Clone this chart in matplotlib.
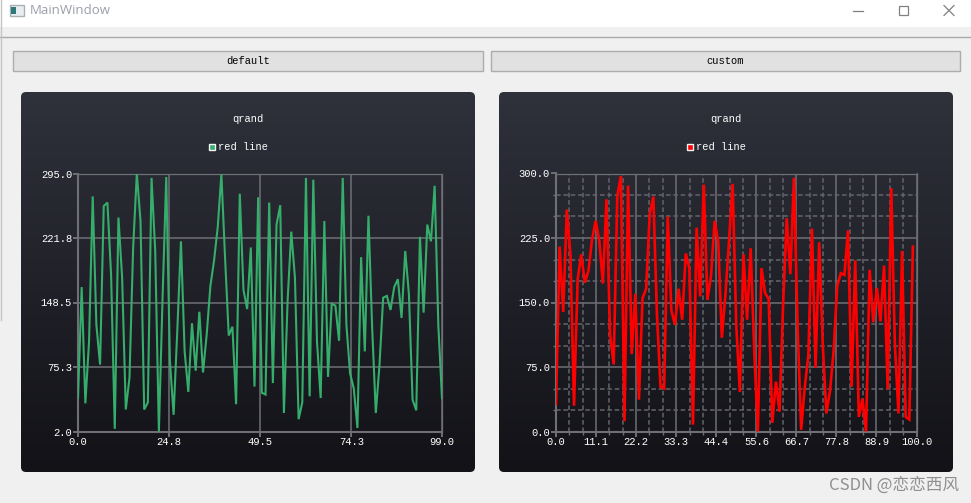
import numpy as np
import matplotlib
matplotlib.use("Agg")
from matplotlib import pyplot as plt
from matplotlib.colors import LinearSegmentedColormap
from matplotlib.patches import FancyBboxPatch, Rectangle
from matplotlib.ticker import FixedLocator, NullFormatter

W, H = 971, 503
MONO = "Liberation Mono"

default_values = [
    40, 166, 34, 104, 269, 123, 78, 258, 262, 180,
    5, 245, 177, 27, 63, 211, 295, 241, 27, 35,
    290, 207, 2, 154, 291, 82, 21, 116, 218, 93,
    47, 125, 71, 138, 69, 112, 167, 196, 234, 294,
    199, 111, 121, 33, 272, 163, 141, 211, 53, 268,
    46, 44, 262, 57, 237, 259, 23, 150, 229, 177,
    16, 35, 290, 42, 288, 104, 40, 241, 64, 147,
    145, 105, 290, 123, 68, 51, 6, 200, 93, 247,
    120, 23, 78, 154, 156, 140, 166, 175, 131, 207,
    158, 38, 26, 223, 137, 237, 218, 281, 123, 40,
]
custom_values = [
    32, 215, 139, 258, 206, 30, 177, 206, 173, 187,
    223, 245, 222, 172, 270, 113, 78, 274, 297, 12,
    286, 90, 160, 37, 155, 166, 253, 273, 136, 52,
    50, 250, 141, 124, 166, 130, 207, 190, 8, 237,
    157, 287, 153, 181, 245, 221, 109, 159, 222, 288,
    124, 46, 206, 130, 213, 93, 0, 190, 161, 154,
    10, 58, 23, 148, 248, 183, 295, 124, 2, 51,
    89, 236, 74, 220, 101, 21, 47, 93, 169, 184,
    182, 234, 52, 199, 17, 38, 0, 188, 127, 167,
    128, 193, 49, 283, 101, 21, 210, 17, 14, 215,
]
default_xticks = [0.0, 24.8, 49.5, 74.3, 99.0]
default_yticks = [2.0, 75.3, 148.5, 221.8, 295.0]
custom_xticks = [0.0, 11.1, 22.2, 33.3, 44.4, 55.6, 66.7, 77.8, 88.9, 100.0]
custom_yticks = [0.0, 75.0, 150.0, 225.0, 300.0]

GRID = "#6f7076"
TEXT = "#ffffff"
gradient = LinearSegmentedColormap.from_list("panel", ["#2f313b", "#121217"])


def pixel_axes(fig, left, top, right, bottom, **kw):
    return fig.add_axes([left / W, 1 - bottom / H, (right - left) / W, (bottom - top) / H], **kw)


def draw_panel(bg, left, right, button_left, button_right, label):
    # the push button above the chart
    bg.add_patch(Rectangle((button_left, 50.5), button_right - button_left, 20,
                           fc="#e1e1e1", ec="#adadad", lw=1))
    bg.text((button_left + button_right) / 2, 61, label, family=MONO, fontsize=7.5,
            color="black", ha="center", va="center")
    # dark rounded card with vertical gradient
    grad = np.linspace(0, 1, 256).reshape(-1, 1)
    im = bg.imshow(grad, cmap=gradient, extent=(left, right, 472, 92), aspect="auto", zorder=1)
    card = FancyBboxPatch((left + 5, 97), right - left - 10, 370,
                          boxstyle="round,pad=5,rounding_size=5", fc="none", ec="none",
                          transform=bg.transData)
    bg.add_patch(card)
    im.set_clip_path(card)
    center = (left + right) / 2
    bg.text(center, 119, "qrand", family=MONO, fontsize=7.5, color=TEXT,
            ha="center", va="center", zorder=3)


def draw_legend(bg, center, color):
    bg.add_patch(Rectangle((center - 39.5, 144), 6, 6, fc=color, ec="#f4f4f4", lw=1, zorder=3))
    bg.text(center - 30, 147, "red line", family=MONO, fontsize=7.5, color=TEXT,
            ha="left", va="center", zorder=3)


def draw_chart(fig, box, values, xticks, yticks, color, lw, minor=False):
    ax = pixel_axes(fig, *box)
    ax.patch.set_alpha(0)
    x = np.arange(len(values))
    ax.plot(x, values, color=color, lw=lw, solid_joinstyle="miter", zorder=3)
    ax.set_xlim(xticks[0], xticks[-1])
    ax.set_ylim(yticks[0], yticks[-1])
    ax.set_xticks(xticks, ["{:.1f}".format(t) for t in xticks])
    ax.set_yticks(yticks, ["{:.1f}".format(t) for t in yticks])
    ax.grid(True, which="major", color=GRID, lw=1.1, zorder=1)
    ax.tick_params(which="major", color=GRID, length=3.5, width=1.4, labelcolor=TEXT, pad=0.8,
                   labelsize=7.6)
    for lab in ax.get_xticklabels() + ax.get_yticklabels():
        lab.set_family(MONO)
    if minor:
        xm = np.linspace(xticks[0], xticks[-1], (len(xticks) - 1) * 3 + 1)
        ym = np.linspace(yticks[0], yticks[-1], (len(yticks) - 1) * 3 + 1)
        ax.xaxis.set_minor_locator(FixedLocator([v for i, v in enumerate(xm) if i % 3]))
        ax.yaxis.set_minor_locator(FixedLocator([v for i, v in enumerate(ym) if i % 3]))
        ax.xaxis.set_minor_formatter(NullFormatter())
        ax.yaxis.set_minor_formatter(NullFormatter())
        ax.grid(True, which="minor", color="#64656b", lw=1.1, ls=(0, (3, 1.8)), zorder=1)
        ax.tick_params(which="minor", color=GRID, length=2, width=1)
    for side, width in (("left", 1.5), ("bottom", 1.5), ("top", 0.9), ("right", 0.9)):
        ax.spines[side].set_color(GRID)
        ax.spines[side].set_linewidth(width)
    return ax


fig = plt.figure(figsize=(W / 100, H / 100), dpi=100, facecolor="#f0f0f0")

# window chrome, drawn in pixel coordinates
bg = fig.add_axes([0, 0, 1, 1])
bg.set_xlim(0, W)
bg.set_ylim(H, 0)
bg.axis("off")
bg.add_patch(Rectangle((0, 0), W, 27, fc="white", ec="none"))
bg.plot([0, W], [37, 37], color="#a9a9a9", lw=1)
bg.plot([0.5, 0.5], [0, 320], color="#c4c4c4", lw=1)
bg.add_patch(Rectangle((9.5, 4.5), 14, 11, fc="#e8eef0", ec="#a8b0b4", lw=1))
bg.add_patch(Rectangle((11, 7), 5, 7, fc="#2f7a78", ec="none"))
bg.text(30, 10.5, "MainWindow", family="Open Sans", fontsize=9.5, color="#9a9fa8",
        ha="left", va="center")
bg.plot([853, 863], [10.5, 10.5], color="#808080", lw=0.9)
bg.add_patch(Rectangle((898.5, 5.5), 9, 9, fc="none", ec="#808080", lw=0.9))
bg.plot([944, 954], [5.5, 15.5], color="#808080", lw=0.9)
bg.plot([944, 954], [15.5, 5.5], color="#808080", lw=0.9)

draw_panel(bg, 21, 475, 13, 482.5, "default")
draw_panel(bg, 499, 953, 491, 959.5, "custom")
draw_legend(bg, 248, "#35ad6b")
draw_legend(bg, 726, "#ff0000")

draw_chart(fig, (78, 173.5, 442, 431.5), default_values, default_xticks, default_yticks,
           "#35ad6b", 1.5)
draw_chart(fig, (556, 173.5, 916.5, 431.5), custom_values, custom_xticks, custom_yticks,
           "#ff0000", 1.9, minor=True)

bg.text(959, 485, "CSDN @恋恋西风", family=["Noto Sans CJK SC", "DejaVu Sans"], fontsize=12,
        color="#8f8f8f", ha="right", va="center", zorder=5)

fig.savefig("out.png", dpi=100, facecolor=fig.get_facecolor())
